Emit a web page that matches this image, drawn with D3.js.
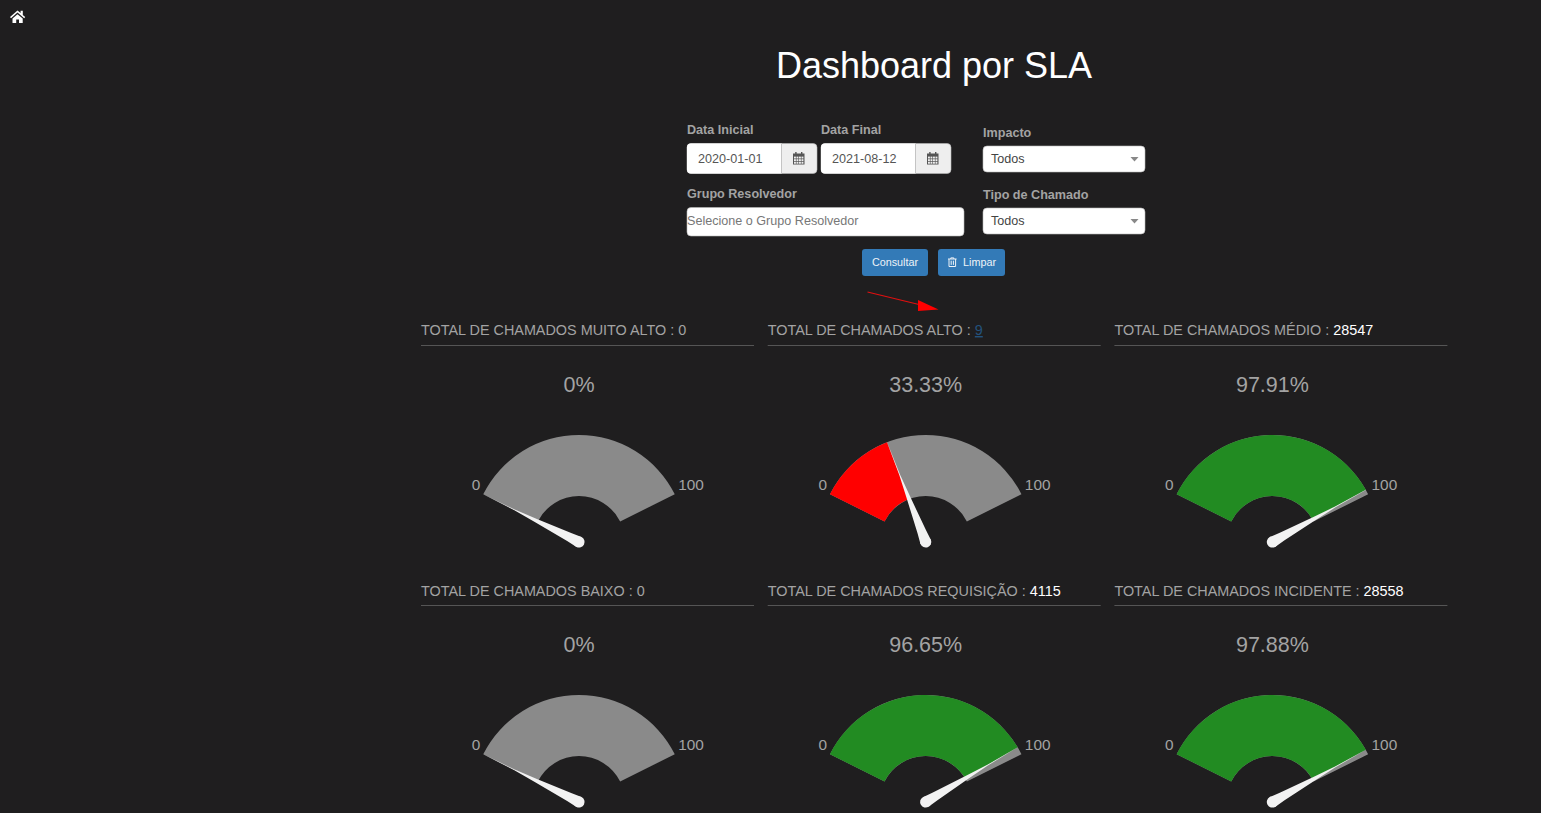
<!DOCTYPE html>
<html>
<head>
<meta charset="utf-8">
<title>Dashboard por SLA</title>
<script src="https://cdn.jsdelivr.net/npm/d3@7"></script>
<style>
  html, body { margin: 0; padding: 0; background: #1f1e1f; overflow: hidden; }
  svg { display: block; font-family: "Liberation Sans", Arial, sans-serif; }
</style>
</head>
<body>
<div id="chart"></div>
<script>
// values
const categories = ["MUITO ALTO", "ALTO", "MÉDIO", "BAIXO", "REQUISIÇÃO", "INCIDENTE"];
const totals = [0, 9, 28547, 0, 4115, 28558];
const percents = [0, 33.33, 97.91, 0, 96.65, 97.88];
const gaugeMin = 0;
const gaugeMax = 100;

const width = 1541;
const height = 813;
const muted = "#a3a3a3";

const svg = d3.select("#chart").append("svg")
    .attr("width", width)
    .attr("height", height);

// grid of the panels
const colX = d3.scalePoint().domain([0, 1, 2]).range([421, 1114.4]);
const rowY = d3.scaleOrdinal().domain([0, 1]).range([0, 260]);
const panelW = 333;

// angle of a gauge value, in radians from 12 o'clock
const angle = d3.scaleLinear().domain([gaugeMin, gaugeMax]).range([-63.5, 63.5].map(d => d * Math.PI / 180));
const outerR = 107;
const innerR = 46;
const arc = d3.arc().innerRadius(innerR).outerRadius(outerR);

// needle half width along its length, from hub to tip
const needleWidth = d3.scaleLinear().domain([0, 11, 48, 72, outerR]).range([5.6, 4.5, 1.9, 0.45, 0.06]);

function fillColor(p) {
  return p < 50 ? "#ff0000" : "#228b22";
}

function addText(x, y, str, size, color, opts = {}) {
  return svg.append("text")
      .attr("x", x)
      .attr("y", y)
      .attr("font-size", size)
      .attr("fill", color)
      .attr("font-weight", opts.weight || "normal")
      .attr("text-anchor", opts.anchor || "start")
      .text(str);
}

function addBox(x, y, w, h, fill, r = 4) {
  return svg.append("rect")
      .attr("x", x).attr("y", y)
      .attr("width", w).attr("height", h)
      .attr("rx", r)
      .attr("fill", fill);
}

// home icon
const home = svg.append("g").attr("transform", "translate(10,10)").attr("fill", "#fff");
home.append("path").attr("d", "M0 7 L7.5 0.4 L10.6 3 L10.6 0.8 L12.8 0.8 L12.8 5 L15.2 7 L14.2 8.2 L7.5 2.5 L1 8.2 Z");
home.append("path").attr("d", "M2.5 8.4 L7.5 4.2 L12.7 8.4 L12.7 13 L9 13 L9 9.4 L6.2 9.4 L6.2 13 L2.5 13 Z");

addText(934, 78, "Dashboard por SLA", 36, "#fff", {anchor: "middle"});

// filter form
function dateInput(x, label, value) {
  addText(x, 134, label, 12.6, muted, {weight: "bold"});
  addBox(x, 143.5, 130, 30, "#eeeeee").attr("stroke", "#bbb").attr("stroke-width", 0.6);
  svg.append("path")
      .attr("d", `M${x + 94.5} 143.5 H${x + 4} a4 4 0 0 0 -4 4 V169.5 a4 4 0 0 0 4 4 H${x + 94.5} Z`)
      .attr("fill", "#fff");
  svg.append("line")
      .attr("x1", x + 94.5).attr("x2", x + 94.5)
      .attr("y1", 143.5).attr("y2", 173.5)
      .attr("stroke", "#c4c4c4");
  addText(x + 11, 163, value, 12.6, "#555");
  // calendar icon
  const g = svg.append("g").attr("transform", `translate(${x + 106},152)`);
  g.append("rect").attr("width", 11.5).attr("height", 11).attr("y", 1.5).attr("fill", "#555");
  d3.range(3).forEach(r => d3.range(4).forEach(c => {
    g.append("rect")
        .attr("x", 1 + c * 2.5).attr("y", 4.6 + r * 2.6)
        .attr("width", 1.9).attr("height", 1.9)
        .attr("fill", "#eee");
  }));
  g.selectAll(".pin").data([2.2, 8]).enter().append("rect")
      .attr("class", "pin")
      .attr("x", d => d).attr("y", 0)
      .attr("width", 1.4).attr("height", 3)
      .attr("fill", "#555");
}

function selectInput(labelY, boxY, label, value) {
  addText(983, labelY, label, 12.6, muted, {weight: "bold"});
  addBox(983, boxY, 162, 26, "#fff").attr("stroke", "#bbb").attr("stroke-width", 0.6);
  addText(991, boxY + 17, value, 12.6, "#444");
  svg.append("path")
      .attr("d", `M1130.5 ${boxY + 11} h8 l-4 4.5 Z`)
      .attr("fill", "#888");
}

dateInput(687, "Data Inicial", "2020-01-01");
dateInput(821, "Data Final", "2021-08-12");
selectInput(137, 146, "Impacto", "Todos");
selectInput(199, 208, "Tipo de Chamado", "Todos");

addText(687, 198, "Grupo Resolvedor", 12.6, muted, {weight: "bold"});
addBox(687, 207.5, 277, 28.5, "#fff").attr("stroke", "#bbb").attr("stroke-width", 0.6);
addText(687, 225, "Selecione o Grupo Resolvedor", 12.6, "#777");

// buttons
addBox(862, 249, 66, 27, "#337ab7", 3);
addText(895, 266, "Consultar", 10.8, "#eef3f8", {anchor: "middle"});
addBox(938, 249, 67, 27, "#337ab7", 3);
addText(963, 266, "Limpar", 10.8, "#eef3f8");
const trash = svg.append("g").attr("transform", "translate(948,257.5)").attr("fill", "none").attr("stroke", "#eef3f8");
trash.append("path").attr("d", "M0 1.5 H8.6 M2.8 1.5 V0.4 H5.8 V1.5 M1 1.5 V9 H7.6 V1.5 M3.2 3.2 V7.4 M5.4 3.2 V7.4").attr("stroke-width", 1);

// red arrow above the panels
svg.append("line")
    .attr("x1", 867.5).attr("y1", 292)
    .attr("x2", 921).attr("y2", 305)
    .attr("stroke", "#e01010")
    .attr("stroke-width", 1.2);
svg.append("path").attr("d", "M918 300 L938.5 309.5 L918 311 Z").attr("fill", "#ff0000");

// panels
categories.forEach((cat, i) => {
  const col = i % 3;
  const row = Math.floor(i / 3);
  const x0 = colX(col);
  const dy = rowY(row);
  const cx = x0 + 158;
  const cy = 542 + dy;
  const hasValue = percents[i] > 0;

  const title = addText(x0, 335 + dy + row, `TOTAL DE CHAMADOS ${cat} : `, 14.4, muted);
  title.style("white-space", "pre");
  const total = title.append("tspan").text(totals[i]);
  if (i === 1) {
    total.attr("fill", "#23527c").attr("text-decoration", "underline");
  } else if (totals[i] > 0) {
    total.attr("fill", "#fff");
  }

  svg.append("line")
      .attr("x1", x0).attr("x2", x0 + panelW)
      .attr("y1", 345.5 + dy).attr("y2", 345.5 + dy)
      .attr("stroke", "#555");

  addText(cx, 392 + dy, `${percents[i]}%`, 21.5, muted, {anchor: "middle"});

  const gauge = svg.append("g").attr("transform", `translate(${cx},${cy})`);
  gauge.append("path")
      .attr("d", arc({startAngle: angle(gaugeMin), endAngle: angle(gaugeMax)}))
      .attr("fill", "#8a8a8a");
  if (hasValue) {
    gauge.append("path")
        .attr("d", arc({startAngle: angle(gaugeMin), endAngle: angle(percents[i])}))
        .attr("fill", fillColor(percents[i]));
  }

  // needle drawn pointing up, then turned to the value
  const steps = needleWidth.domain();
  const needle = steps.map(r => [needleWidth(r), -r])
      .concat(steps.slice().reverse().map(r => [-needleWidth(r), -r]));
  const hand = gauge.append("g")
      .attr("transform", `rotate(${angle(percents[i]) * 180 / Math.PI})`)
      .attr("fill", "#f2f2f2");
  hand.append("path").attr("d", d3.line()(needle) + "Z");
  hand.append("circle").attr("r", needleWidth(0));

  addText(cx - 103, 490 + dy, gaugeMin, 15.4, muted, {anchor: "middle"});
  addText(cx + 112, 490 + dy, gaugeMax, 15.4, muted, {anchor: "middle"});
});
</script>
</body>
</html>
